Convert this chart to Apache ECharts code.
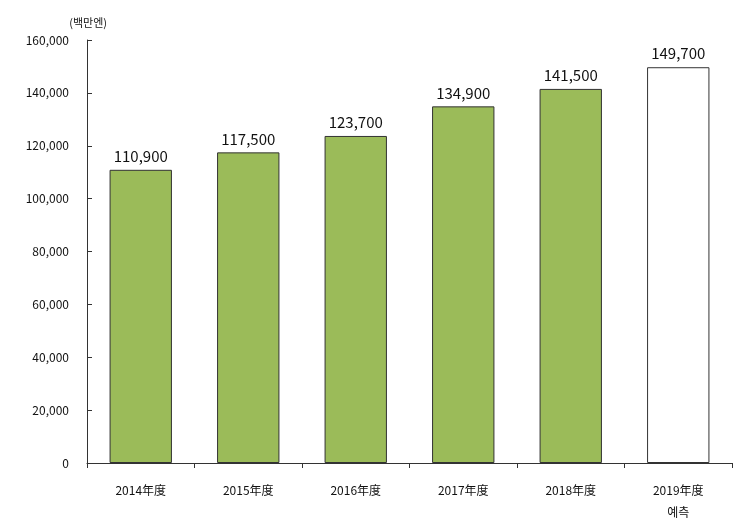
<!DOCTYPE html><html><head><meta charset="utf-8"><script src="https://cdn.jsdelivr.net/npm/echarts@6/dist/echarts.min.js"></script></head><body style="margin:0"><div id="c" style="width:740px;height:526px"></div><script>
const categories=['2014年度','2015年度','2016年度','2017年度','2018年度','2019年度\n예측'];
const values=[110900,117500,123700,134900,141500,149700];
const chart=echarts.init(document.getElementById('c'));
const font='"Noto Sans CJK KR", sans-serif';
chart.setOption({animation:false,
grid:{left:87,right:8,top:40,bottom:63},
xAxis:{type:'category',data:categories,axisLine:{lineStyle:{color:'#333'}},axisTick:{show:true,length:5,lineStyle:{color:'#333'}},axisLabel:{color:'#111',fontSize:12,fontFamily:font,margin:16,lineHeight:22}},
yAxis:{type:'value',min:0,max:160000,interval:20000,name:'(백만엔)',nameGap:12,nameTextStyle:{color:'#111',fontSize:11,fontFamily:font,align:'right',padding:[0,-20,0,0]},axisLine:{show:true,lineStyle:{color:'#333'}},axisTick:{show:true,length:-5,lineStyle:{color:'#333'}},splitLine:{show:false},axisLabel:{color:'#111',fontSize:12,fontFamily:font,margin:18,formatter:v=>v.toLocaleString('en-US')}},
series:[{type:'bar',barWidth:'58%',data:values.map((v,i)=>({value:v,itemStyle:{color:i===5?'#fff':'#9BBB59'}})),itemStyle:{borderColor:'#333',borderWidth:1},label:{show:true,position:'top',distance:6,color:'#111',fontSize:15,fontFamily:font,formatter:p=>p.value.toLocaleString('en-US')}}]});
</script></body></html>
